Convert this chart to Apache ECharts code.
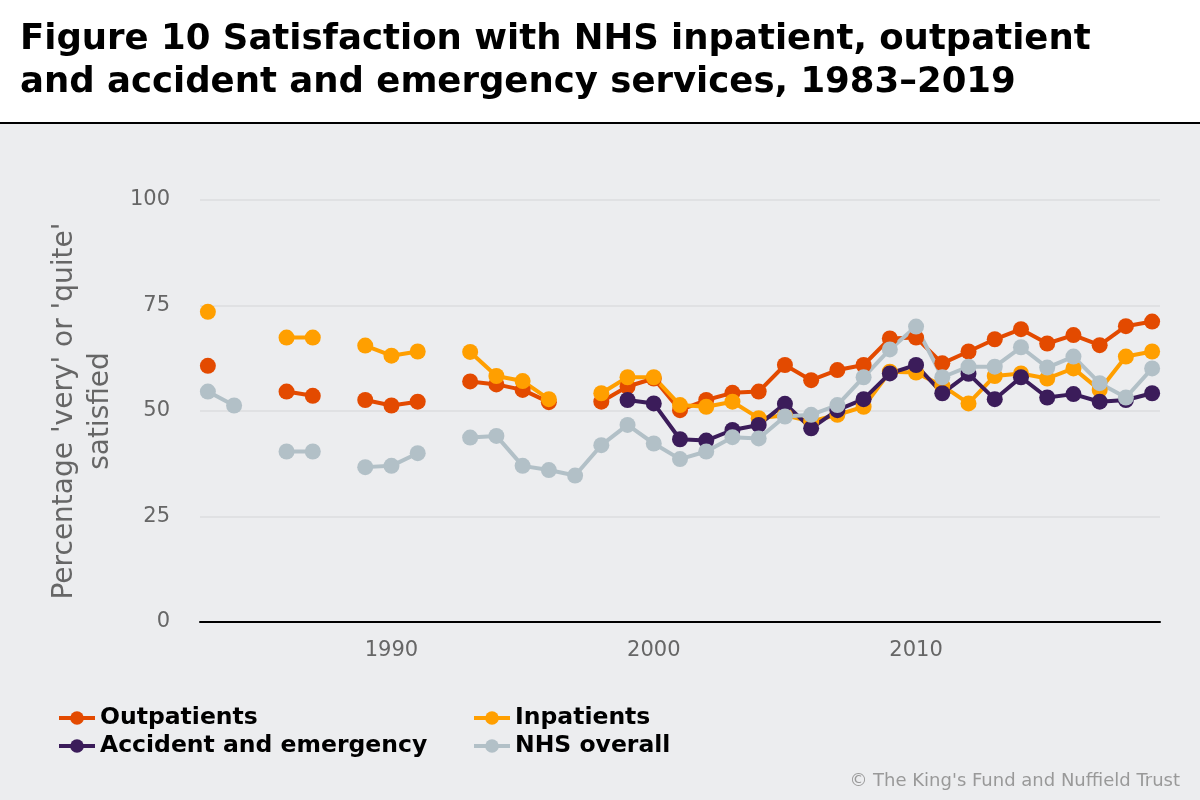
<!DOCTYPE html>
<html>
<head>
<meta charset="utf-8">
<script src="https://cdn.jsdelivr.net/npm/echarts@6/dist/echarts.min.js"></script>
<style>
html, body { margin: 0; padding: 0; background: #ecedef; }
#chart { width: 1200px; height: 800px; }
</style>
</head>
<body>
<div id="chart"></div>
<script>
// survey years (gaps = no survey that year)
const years = [1983, 1984, 1985, 1986, 1987, 1988, 1989, 1990, 1991, 1992,
  1993, 1994, 1995, 1996, 1997, 1998, 1999, 2000, 2001, 2002,
  2003, 2004, 2005, 2006, 2007, 2008, 2009, 2010, 2011, 2012,
  2013, 2014, 2015, 2016, 2017, 2018, 2019];

const outpatients = [60.7, null, null, 54.6, 53.6, null, 52.6, 51.3, 52.2, null,
  57.0, 56.3, 55.0, 52.1, null, 52.2, 55.8, 57.7, 50.2, 52.6,
  54.3, 54.6, 60.9, 57.3, 59.7, 60.9, 67.2, 67.4, 61.3, 64.1,
  67.0, 69.4, 66.0, 68.0, 65.6, 70.1, 71.2];

const inpatients = [73.5, null, null, 67.4, 67.4, null, 65.5, 63.1, 64.1, null,
  64.0, 58.3, 57.1, 52.8, null, 54.2, 58.0, 58.0, 51.4, 51.0,
  52.2, 48.3, 49.0, 47.5, 49.1, 51.0, 59.3, 59.1, 56.0, 51.8,
  58.3, 58.9, 57.7, 60.1, 55.0, 62.9, 64.1];

const aande = [null, null, null, null, null, null, null, null, null, null,
  null, null, null, null, null, null, 52.6, 51.8, 43.3, 43.0,
  45.5, 46.7, 51.7, 45.9, 50.2, 52.8, 58.9, 60.9, 54.2, 58.8,
  52.8, 58.0, 53.2, 54.0, 52.2, 52.6, 54.2];

const nhsOverall = [54.6, 51.3, null, 40.4, 40.4, null, 36.7, 37.0, 40.0, null,
  43.7, 44.1, 37.0, 36.0, 34.7, 41.9, 46.7, 42.3, 38.6, 40.4,
  43.8, 43.5, 48.7, 49.1, 51.4, 58.0, 64.6, 70.0, 58.0, 60.5,
  60.5, 65.1, 60.3, 62.9, 56.6, 53.2, 60.1];

const xLabels = [1990, 2000, 2010];
const yTicks = [0, 25, 50, 75, 100];

const font = "'DejaVu Sans', Verdana, sans-serif";

function pairs(vals) {
  return years.map((y, i) => [y, vals[i]]);
}

function lineSeries(name, vals, color) {
  return {
    name: name,
    type: "line",
    data: pairs(vals),
    connectNulls: false,
    symbol: "circle",
    symbolSize: 16,
    lineStyle: { color: color, width: 4 },
    itemStyle: { color: color },
    emphasis: { disabled: true },
    animation: false
  };
}

let dom = document.getElementById("chart");
let myChart = echarts.init(dom);

let legendText = { fontFamily: font, fontSize: 23.5, fontWeight: "bold", color: "#000000" };

let option = {
  backgroundColor: "#ecedef",
  textStyle: { fontFamily: font },
  graphic: [
    {
      type: "rect",
      shape: { x: 0, y: 0, width: 1200, height: 123 },
      style: { fill: "#ffffff" },
      z: 0
    },
    {
      type: "line",
      shape: { x1: 0, y1: 123, x2: 1200, y2: 123 },
      style: { stroke: "#000000", lineWidth: 2 },
      z: 1
    },
    {
      type: "text",
      right: 20,
      top: 772,
      style: {
        text: "© The King's Fund and Nuffield Trust",
        fill: "#999999",
        font: "18px " + font
      }
    }
  ],
  title: {
    text: "Figure 10 Satisfaction with NHS inpatient, outpatient\nand accident and emergency services, 1983–2019",
    left: 15,
    top: 13,
    textStyle: {
      fontFamily: font,
      fontSize: 35.5,
      fontWeight: "bold",
      color: "#000000",
      lineHeight: 43
    }
  },
  legend: [
    {
      data: ["Outpatients", "Accident and emergency"],
      orient: "vertical",
      left: 52,
      top: 701,
      itemWidth: 36,
      itemHeight: 17,
      itemGap: 4,
      lineStyle: { width: 4 },
      textStyle: legendText
    },
    {
      data: ["Inpatients", "NHS overall"],
      orient: "vertical",
      left: 467,
      top: 701,
      itemWidth: 36,
      itemHeight: 17,
      itemGap: 4,
      lineStyle: { width: 4 },
      textStyle: legendText
    }
  ],
  grid: {
    left: 200,
    right: 40,
    top: 200,
    bottom: 178
  },
  xAxis: {
    type: "value",
    min: 1982.7,
    max: 2019.3,
    splitLine: { show: false },
    axisTick: { show: false },
    axisLine: { show: true, onZero: false, lineStyle: { color: "#000000", width: 2 } },
    axisLabel: {
      customValues: xLabels,
      formatter: v => String(v),
      color: "#666666",
      fontSize: 21,
      margin: 18,
      fontFamily: font
    }
  },
  yAxis: {
    type: "value",
    min: 0,
    max: 100,
    interval: 25,
    name: "Percentage 'very' or 'quite'\nsatisfied",
    nameLocation: "middle",
    nameGap: 80,
    nameTextStyle: { color: "#666666", fontSize: 28, lineHeight: 36, fontFamily: font },
    axisLine: { show: false },
    axisTick: { show: false },
    splitLine: { lineStyle: { color: "#e0e1e3", width: 2 } },
    axisLabel: {
      customValues: yTicks,
      color: "#666666",
      fontSize: 21,
      margin: 30,
      fontFamily: font
    }
  },
  series: [
    lineSeries("Outpatients", outpatients, "#e34a00"),
    lineSeries("Inpatients", inpatients, "#ff9f00"),
    lineSeries("Accident and emergency", aande, "#3b1c5a"),
    lineSeries("NHS overall", nhsOverall, "#b2c0c7")
  ]
};

myChart.setOption(option);
</script>
</body>
</html>
